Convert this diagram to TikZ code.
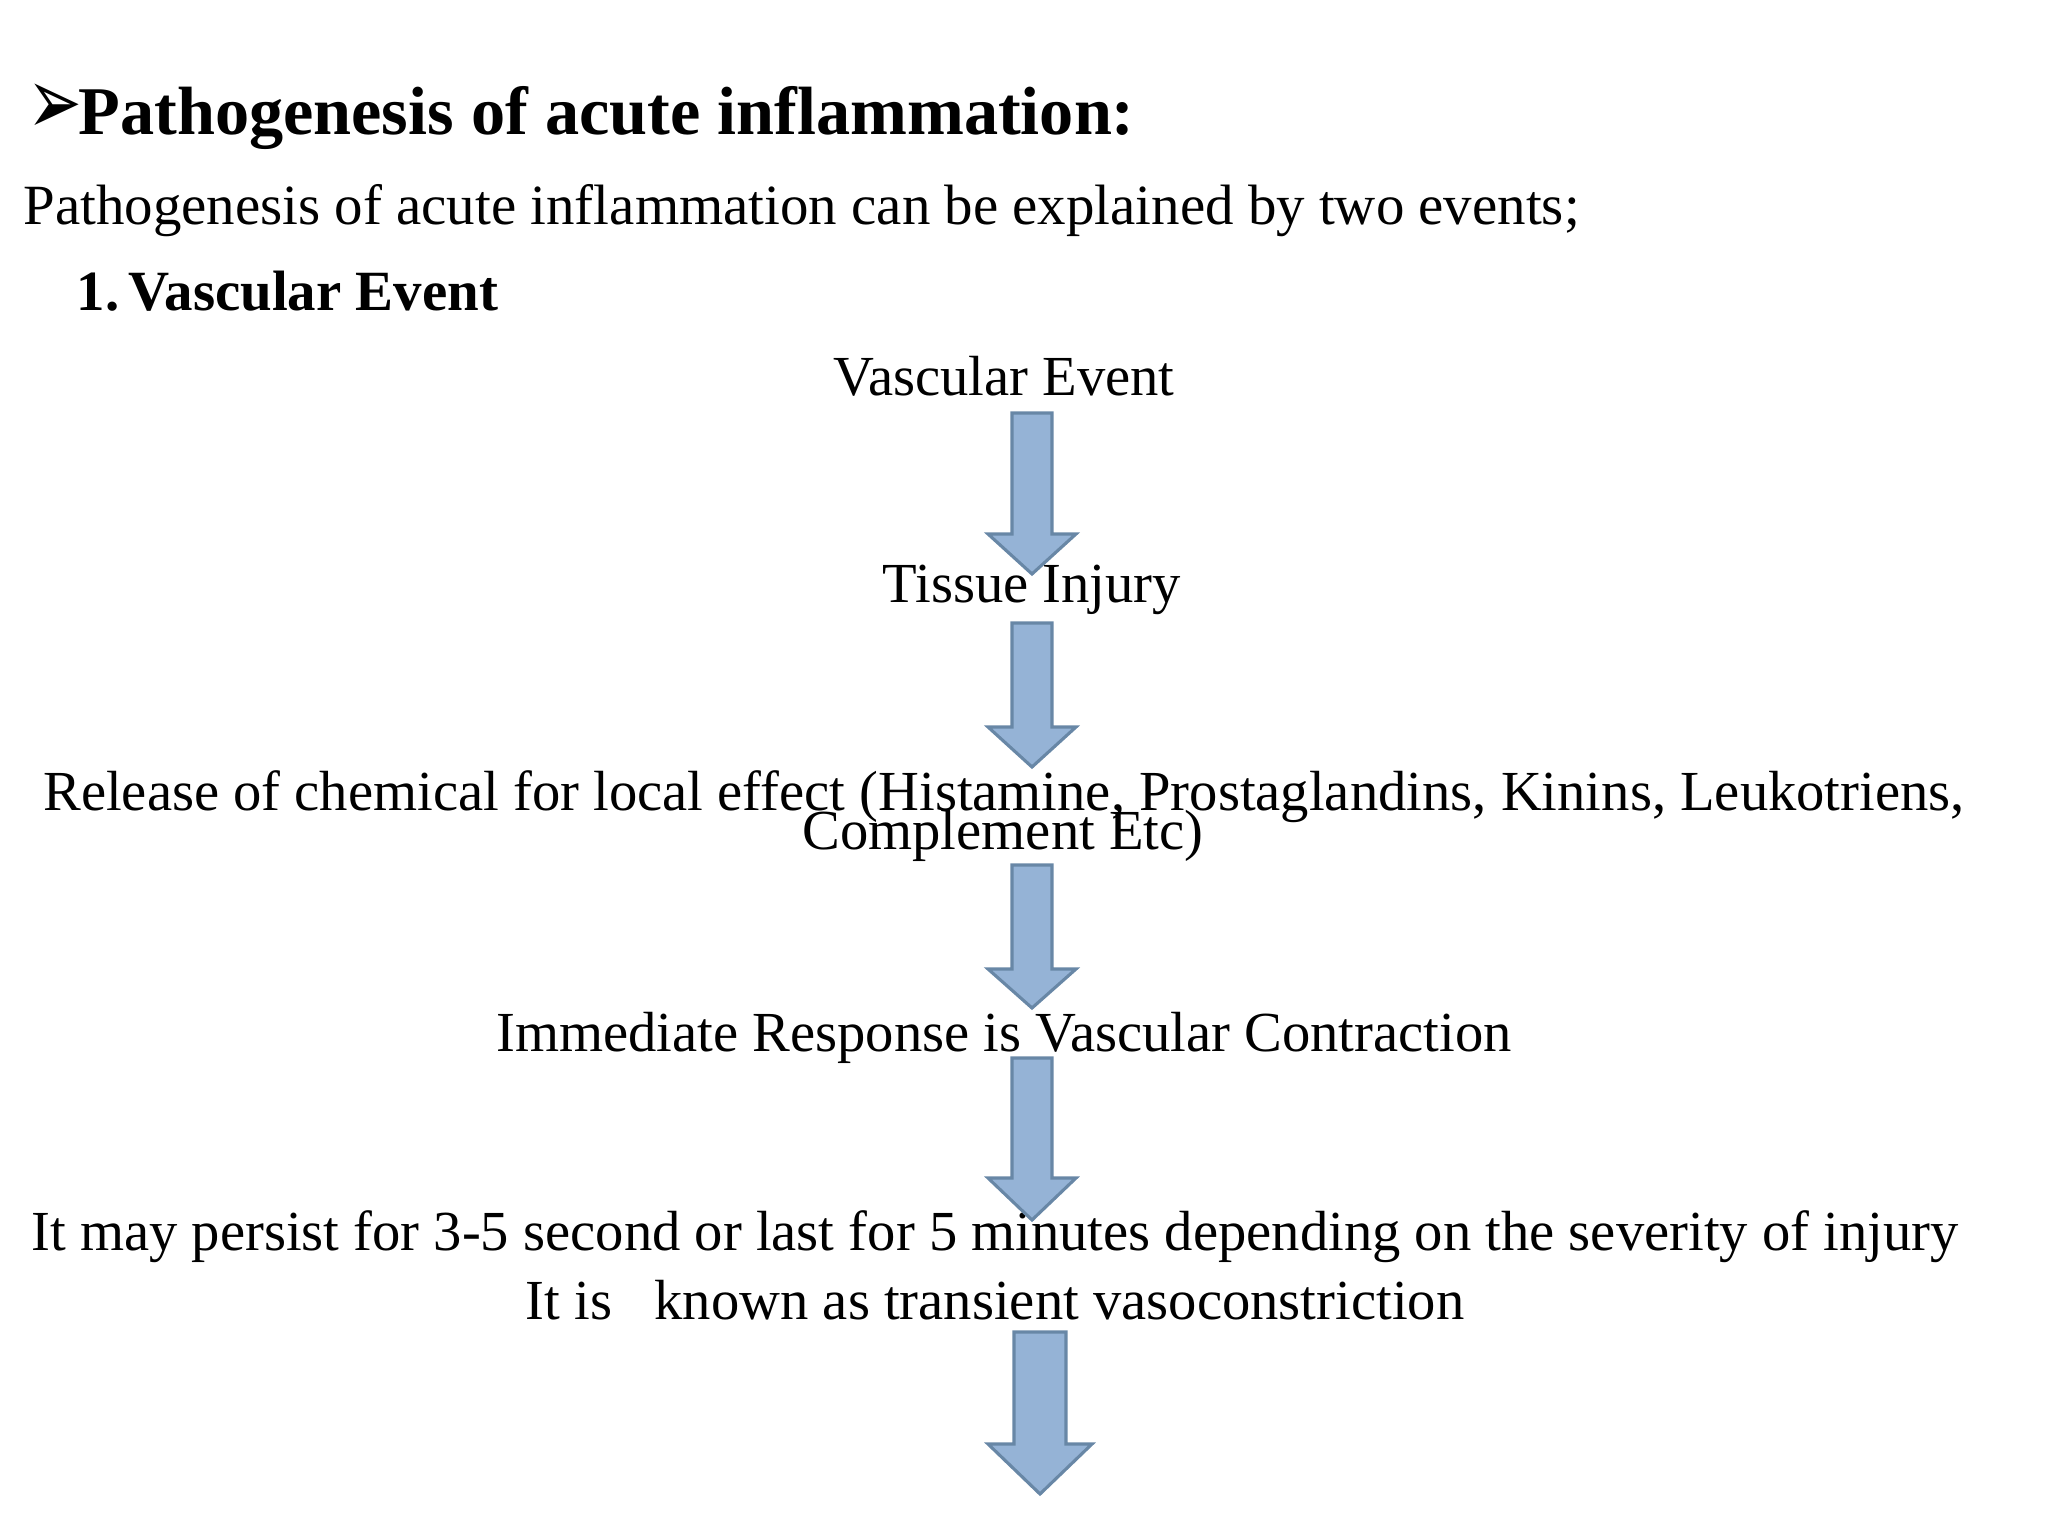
\documentclass[tikz,border=0pt]{standalone}
\usepackage{fontspec}
\setmainfont{Liberation Serif}
\newfontfamily\dingfont{DejaVu Sans}
\usepackage{xcolor}
\usetikzlibrary{positioning}
\definecolor{arrowfill}{RGB}{149,179,214}
\definecolor{arrowline}{RGB}{104,135,166}

% block arrow: centre x, top, head y, tip y, half shaft, half head
\newcommand{\blockarrow}[6]{%
  \draw[blockarr] (#1-#5,#2) -- (#1+#5,#2) -- (#1+#5,#3) -- (#1+#6,#3)
    -- (#1,#4) -- (#1-#6,#3) -- (#1-#5,#3) -- cycle;}

\begin{document}
\begin{tikzpicture}[
    x=0.3515625pt, y=-0.3515625pt,
    title/.style={anchor=base west, inner sep=0pt, font=\fontsize{24}{28}\selectfont\bfseries},
    body/.style={anchor=base west, inner sep=0pt, font=\fontsize{20}{24}\selectfont},
    flowtext/.style={anchor=base, inner sep=0pt, font=\fontsize{19.9}{24}\selectfont},
    blockarr/.style={draw=arrowline, fill=arrowfill, line width=1.1pt, line join=miter}
]
    \useasboundingbox (0,0) rectangle (2048,1536);

    \node[anchor=base west, inner sep=0pt, font=\dingfont\fontsize{23}{26}\selectfont] (bullet) at (27,135) {\scalebox{1}[1.45]{➢}};
    \node[title] (head) at (78,135) {Pathogenesis of acute inflammation:};
    \node[body] (intro) at (23,225) {Pathogenesis of acute inflammation can be explained by two events;};
    \node[body, font=\fontsize{20}{24}\selectfont\bfseries] (sub) at (76,311) {1.\,Vascular Event};

    \node[flowtext] (ve) at (1004,396) {Vascular Event};
    \node[flowtext] (ti) at (1032,603) {Tissue Injury};
    \node[flowtext] (rel) at (1004,810) {Release of chemical for local effect (Histamine, Prostaglandins, Kinins, Leukotriens,};
    \node[flowtext] (relb) at (1003,849) {Complement Etc)};
    \node[flowtext] (imm) at (1004,1051) {Immediate Response is Vascular Contraction};
    \node[flowtext] (per) at (995,1250) {It may persist for 3-5 second or last for 5 minutes depending on the severity of injury};
    \node[flowtext] (tvc) at (995,1319) {It is \ \ known as transient vasoconstriction};

    \blockarrow{1032}{413}{534}{574}{20}{44}
    \blockarrow{1032}{623}{727}{767}{20}{44}
    \blockarrow{1032}{865}{969}{1008}{20}{44}
    \blockarrow{1032}{1058}{1178}{1220}{20}{44}
    \blockarrow{1040}{1332}{1444}{1494}{26}{52}
\end{tikzpicture}
\end{document}
